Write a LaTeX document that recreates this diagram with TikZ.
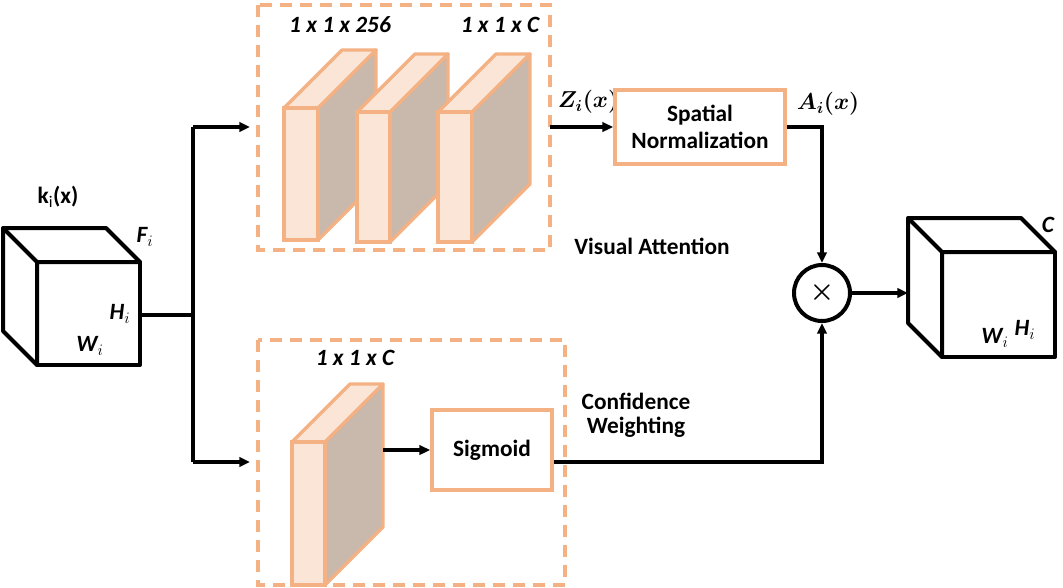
\documentclass[tikz,border=0pt]{standalone}
\usepackage{amsmath}
\usepackage{fontspec}
\setmainfont{Carlito}
\usetikzlibrary{arrows.meta}
\definecolor{org}{HTML}{F4B183}
\definecolor{lite}{HTML}{FBE5D6}
\definecolor{side}{HTML}{C9B8AC}
\newcommand\bigf{\fontsize{17.5}{20}\selectfont}
\begin{document}
\begin{tikzpicture}[x=0.75pt,y=-0.75pt,
 ln/.style={line width=3pt,line join=round},
 ar/.style={line width=2.6pt,-{Triangle[length=8pt,width=7pt]}},
 box/.style={draw=org,line width=2.8pt,fill=white,font=\bfseries\bigf,align=center,inner sep=0pt},
 dbox/.style={draw=org,line width=2.8pt,dash pattern=on 9pt off 6pt},
 lab/.style={font=\bfseries\itshape\bigf},
 txt/.style={font=\bfseries\bigf,align=center}]
\useasboundingbox (0,0) rectangle (1063,587);
\newcommand\layer[4]{% x0 y0 x1 y1 front
 \fill[side,draw=org,line width=2.5pt,line join=round] (#3,#2)--(#3+58,#2-58)--(#3+58,#4-58)--(#3,#4)--cycle;
 \fill[lite,draw=org,line width=2.5pt,line join=round] (#1,#2)--(#1+58,#2-58)--(#3+58,#2-58)--(#3,#2)--cycle;
 \fill[lite,draw=org,line width=2.5pt] (#1,#2) rectangle (#3,#4);}
\newcommand\cube[4]{%
 \draw[ln,fill=white] (#1-34,#2-34)--(#3-34,#2-34)--(#3,#2)--(#1,#2)--(#1,#4)--(#1-34,#4-34)--cycle;
 \draw[ln] (#1-34,#2-34)--(#1,#2);
 \draw[ln] (#1,#2) rectangle (#3,#4);}
% dashed boxes
\draw[dbox] (258,5) rectangle (550,250);
\draw[dbox] (258,340) rectangle (565,585);
% layers
\layer{284}{108}{318}{240}
\layer{357}{112}{390}{242}
\layer{438}{112}{472}{242}
\layer{292}{442}{325}{585}
% cubes
\cube{37}{262}{140}{365}
\cube{942}{252}{1055}{357}
\node[lab] at (145,237) {F$_i$};
\node[lab] at (120,314) {H$_i$};
\node[lab] at (90,346) {W$_i$};
\node[txt] at (58,197) {k$_\mathrm{i}$(x)};
\node[lab] at (1048,225) {C};
\node[lab] at (1025,330) {H$_i$};
\node[lab] at (995,338) {W$_i$};
% labels
\node[lab] at (340,25) {1 x 1 x 256};
\node[lab] at (500,25) {1 x 1 x C};
\node[lab] at (355,358) {1 x 1 x C};
\node[font=\bigf] at (588,102) {$\boldsymbol{Z_i(x)}$};
\node[font=\bigf] at (828,104) {$\boldsymbol{A_i(x)}$};
\node[txt] at (652,246) {Visual Attention};
\node[txt] at (636,415) {Confidence\\[-2pt]Weighting};
% nodes
\node[box,minimum width=170*0.75pt,minimum height=74*0.75pt] (sn) at (700,127) {Spatial\\Normalization};
\node[box,minimum width=120*0.75pt,minimum height=80*0.75pt] (sg) at (492,450) {Sigmoid};
\node[draw,line width=3pt,circle,minimum size=56*0.75pt,inner sep=0pt,font=\huge] (m) at (822,293) {$\boldsymbol{\times}$};
\coordinate (c1) at (140,315);
\coordinate (j) at (193,315);
\coordinate (t1) at (250,127);
\coordinate (t2) at (250,462);
\coordinate (z0) at (550,127);
\coordinate (b0) at (383,450);
\coordinate (rc) at (908,293);
% connectors
\draw[ln] (c1)--(j);
\draw[ln] (j|-t1)--(j|-t2);
\draw[ar] (j|-t1)--(t1);
\draw[ar] (j|-t2)--(t2);
\draw[ar] (z0)--(sn.west);
\draw[ar] (sn.east)-|(m.north);
\draw[ar] (sg.east|-t2)-|(m.south);
\draw[ar] (m.east)--(rc);
\draw[ar] (b0)--(sg.west|-b0);
\end{tikzpicture}
\end{document}
